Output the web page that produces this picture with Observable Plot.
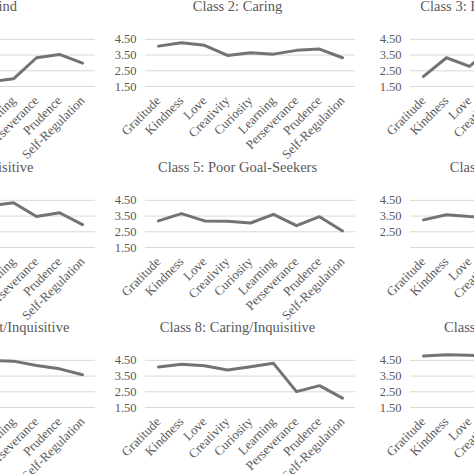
<!DOCTYPE html>
<html><head><meta charset="utf-8">
<script src="https://cdn.jsdelivr.net/npm/d3@7"></script>
<script src="https://cdn.jsdelivr.net/npm/@observablehq/plot@0.6"></script>
<style>
html,body{margin:0;padding:0;background:#fff;}
#fig{position:relative;width:474px;height:474px;overflow:hidden;background:#fff;font-family:"Liberation Serif",serif;}
.panel{position:absolute;width:265px;height:160px;}
.title{position:absolute;left:50%;transform:translateX(-50%);font-size:14.5px;color:#595959;white-space:nowrap;line-height:16px;}
.panel svg{position:absolute;left:0;top:0;overflow:visible;}
</style></head><body><div id="fig"></div>
<script>
const categories = ["Gratitude","Kindness","Love","Creativity","Curiosity","Learning","Perseverance","Prudence","Self-Regulation"];
const class1 = [2.60, 3.00, 2.60, 2.00, 1.80, 1.99, 3.33, 3.54, 2.99];
const class2 = [4.07, 4.29, 4.12, 3.48, 3.65, 3.56, 3.80, 3.88, 3.33];
const class3 = [2.14, 3.33, 2.78, 4.00, 3.60, 3.70, 3.00, 3.20, 2.70];
const class4 = [3.50, 3.90, 3.70, 4.20, 4.16, 4.35, 3.47, 3.71, 2.96];
const class5 = [3.19, 3.66, 3.19, 3.17, 3.06, 3.61, 2.89, 3.46, 2.55];
const class6 = [3.26, 3.58, 3.47, 3.40, 3.30, 3.50, 3.10, 3.30, 2.80];
const class7 = [4.50, 4.60, 4.55, 4.40, 4.50, 4.45, 4.17, 3.96, 3.58];
const class8 = [4.08, 4.25, 4.16, 3.89, 4.10, 4.31, 2.51, 2.89, 2.10];
const class9 = [4.77, 4.86, 4.82, 4.75, 4.80, 4.85, 4.70, 4.70, 4.60];
const titles = ["Class 1: Kind","Class 2: Caring","Class 3: Intellectual/Prudent",
  "Class 4: Inquisitive","Class 5: Poor Goal-Seekers","Class 6: Moderate",
  "Class 7: Perseverant/Inquisitive","Class 8: Caring/Inquisitive","Class 9: Flourishing"];
const yTicks = [1.5, 2.5, 3.5, 4.5];
const yDomain = [1.5, 5.0];

const series = [class1,class2,class3,class4,class5,class6,class7,class8,class9];
const colLeft = [-155, 105, 370];
const rowTop = [0, 161, 321];
const fig = document.getElementById("fig");

series.forEach((vals, i) => {
  const r = Math.floor(i / 3), c = i % 3;
  const panel = document.createElement("div");
  panel.className = "panel";
  panel.style.left = colLeft[c] + "px";
  panel.style.top = rowTop[r] + "px";
  const data = categories.map((cat, k) => ({category: cat, value: vals[k]}));
  const labelTicks = i === 5 ? [2.5, 3.5, 4.5] : yTicks;
  const chart = Plot.plot({
    width: 265, height: 160,
    marginLeft: 40, marginRight: 15, marginTop: 31, marginBottom: 74,
    x: {type: "point", domain: categories, padding: 0.5},
    y: {domain: yDomain},
    style: {fontFamily: "'Liberation Serif', serif", fontSize: "13px", color: "#595959", background: "transparent", overflow: "visible"},
    marks: [
      Plot.ruleY(yTicks, {stroke: "#d9d9d9", strokeWidth: 1}),
      Plot.axisY({ticks: labelTicks, tickSize: 0, tickPadding: 9, tickFormat: d3.format(".2f"), label: null, fill: "#595959", fontSize: 12.5}),
      Plot.axisX({tickRotate: -45, tickSize: 0, tickPadding: 12, label: null, fill: "#595959"}),
      Plot.line(data, {x: "category", y: "value", stroke: "#737373", strokeWidth: 3, strokeLinejoin: "round"})
    ]
  });
  panel.appendChild(chart);
  const t = document.createElement("div");
  t.className = "title";
  t.style.top = "-2px";
  t.textContent = titles[i];
  panel.appendChild(t);
  fig.appendChild(panel);
});
</script>
</body></html>
